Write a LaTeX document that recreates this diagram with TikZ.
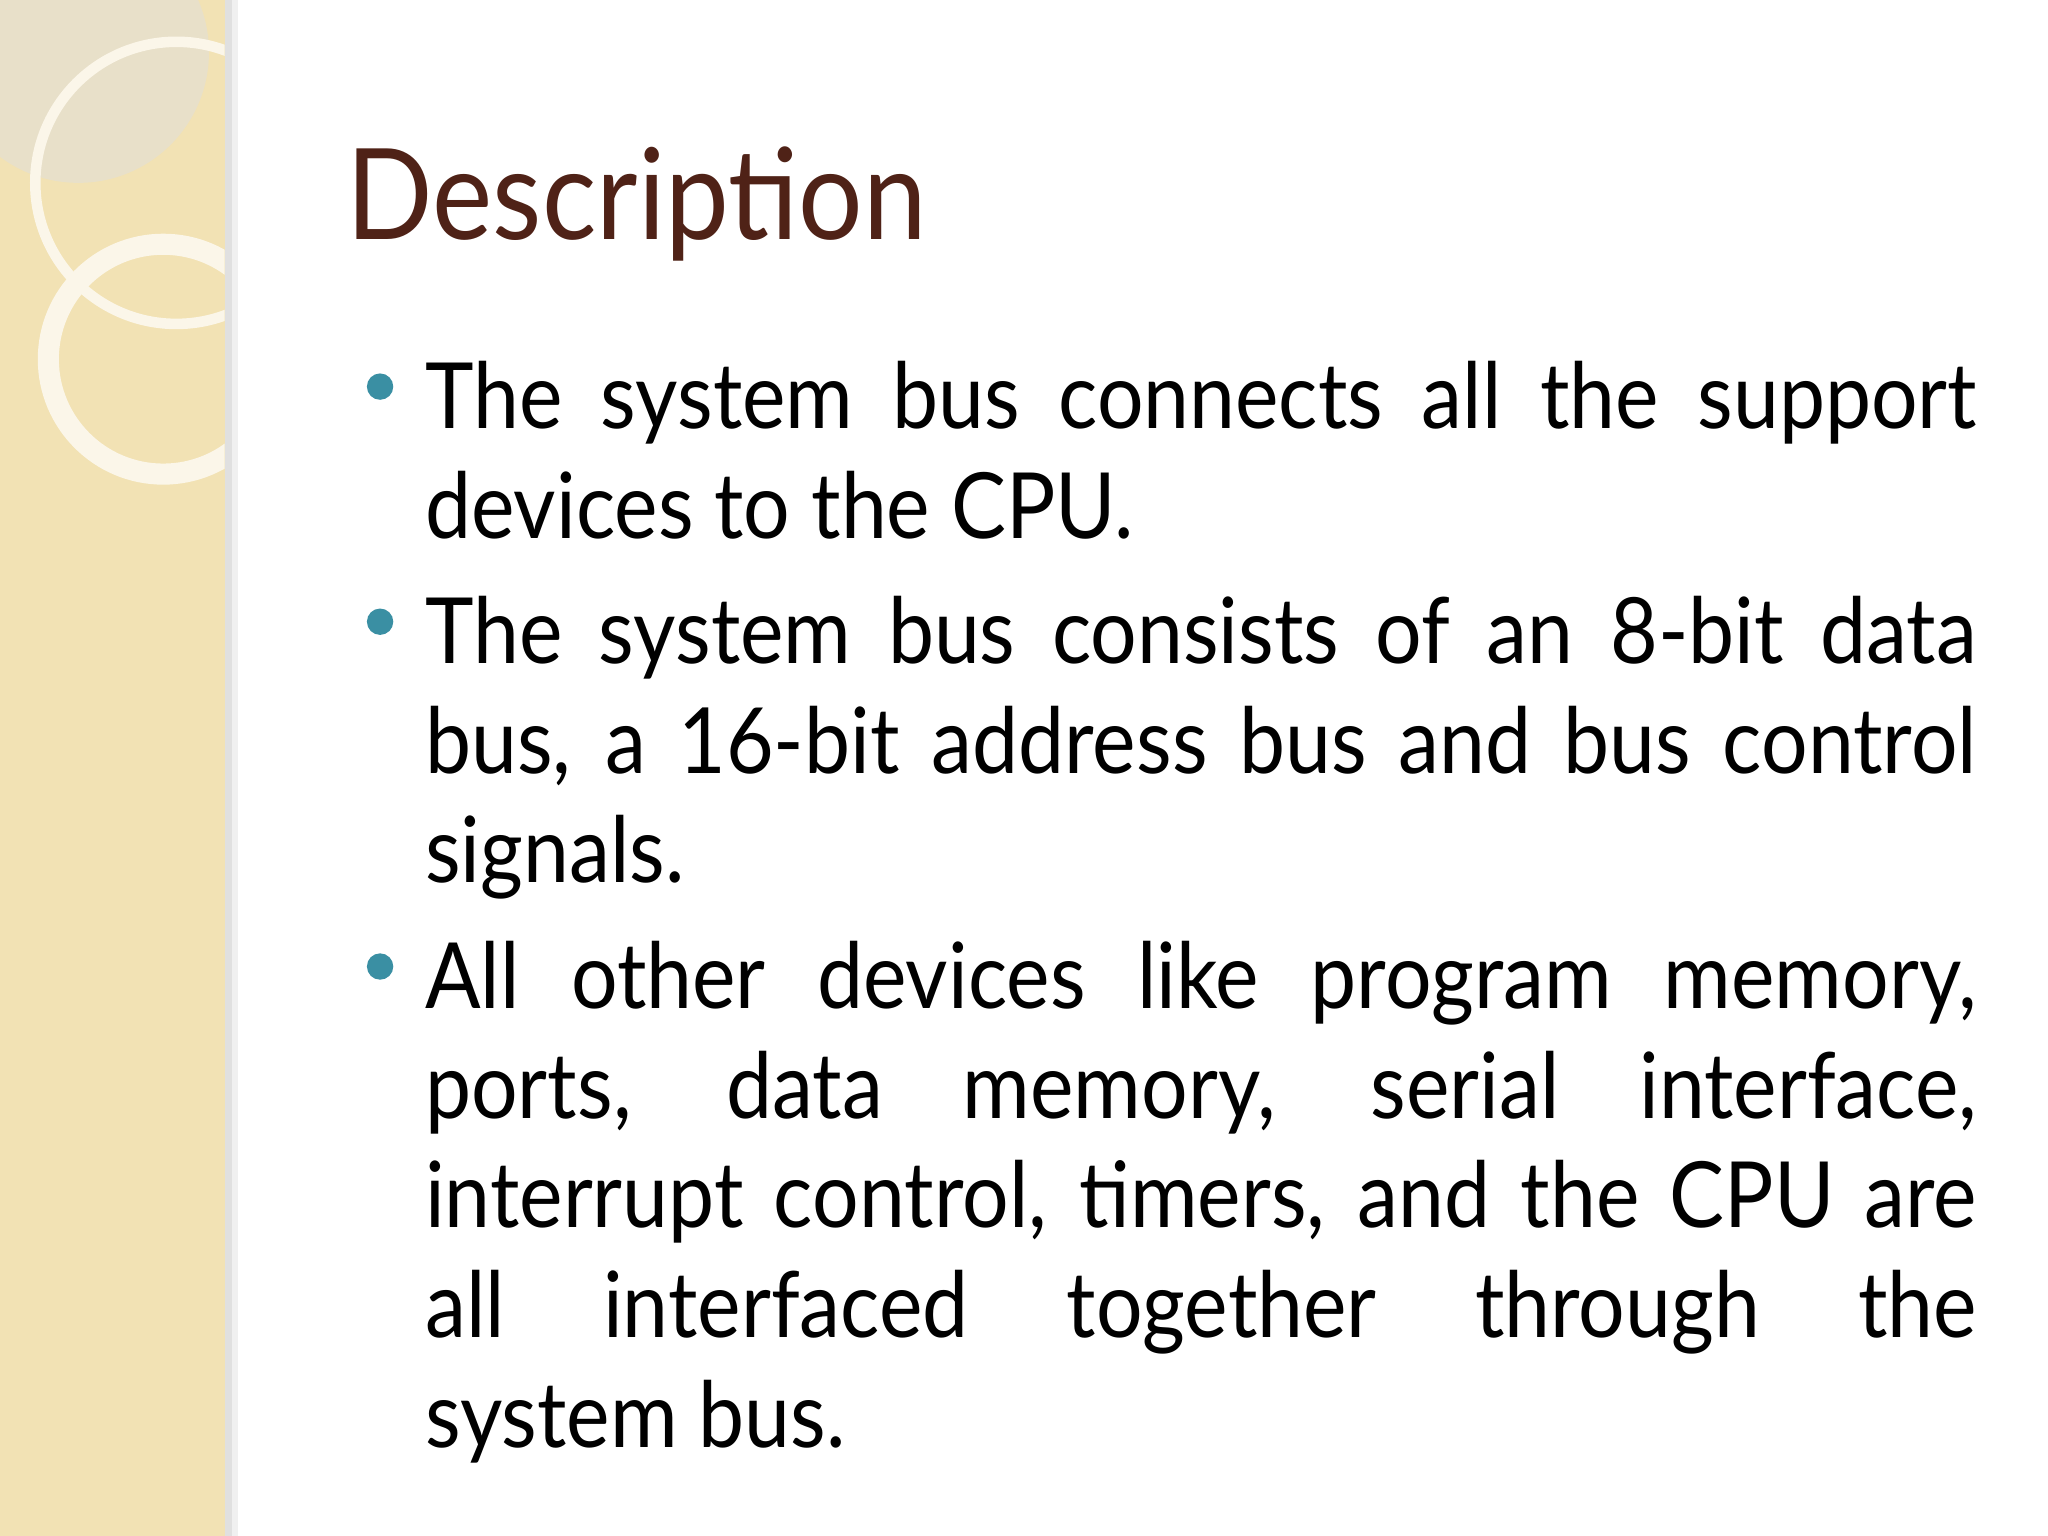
\documentclass[tikz,border=0pt]{standalone}
\usepackage{fontspec}
\setmainfont{Lato}[FakeStretch=0.9]
\definecolor{beige}{HTML}{F2E2B4}
\definecolor{brownt}{HTML}{4F2217}
\definecolor{teal}{HTML}{3A8FA3}
\newcommand{\fl}[1]{\makebox[441.5pt][s]{#1}}
\begin{document}
\begin{tikzpicture}[x=0.01306cm,y=-0.01306cm,
  ln/.style={anchor=base west,inner sep=0pt,font=\fontsize{26}{31}\selectfont},
  bul/.style={circle,fill=teal,inner sep=0pt,minimum size=7.5pt}]
\useasboundingbox (0,0) rectangle (1568,1176);
\fill[white] (0,0) rectangle (1568,1176);
\fill[beige] (0,0) rectangle (172,1176);
\fill[black!12] (172,0) rectangle (178,1176);
\fill[black!6] (178,0) rectangle (182,1176);
\begin{scope}
\clip (0,0) rectangle (172,1176);
\fill[gray!25,opacity=0.5] (60,40) circle (100);
\draw[white!70!beige,line width=3pt] (135,140) circle (108);
\draw[white!70!beige,line width=6pt] (125,275) circle (88);
\end{scope}
\node[anchor=base west,inner sep=0pt,text=brownt,font=\fontsize{36}{40}\selectfont] (title) at (265,183) {Description};
\node[bul] (b1) at (291,296) {};
\node[bul] (b2) at (291,476) {};
\node[bul] (b3) at (291,740) {};
\node[ln] (l1) at (325,328) {\fl{The system bus connects all the support}};
\node[ln] (l2) at (325,412) {devices to the CPU.};
\node[ln] (l3) at (325,508) {\fl{The system bus consists of an 8-bit data}};
\node[ln] (l4) at (325,592) {\fl{bus, a 16-bit address bus and bus control}};
\node[ln] (l5) at (325,676) {signals.};
\node[ln] (l6) at (325,772) {\fl{All other devices like program memory,}};
\node[ln] (l7) at (325,856) {\fl{ports, data memory, serial interface,}};
\node[ln] (l8) at (325,940) {\fl{interrupt control, timers, and the CPU are}};
\node[ln] (l9) at (325,1024) {\fl{all interfaced together through the}};
\node[ln] (l10) at (325,1108) {system bus.};
\end{tikzpicture}
\end{document}
